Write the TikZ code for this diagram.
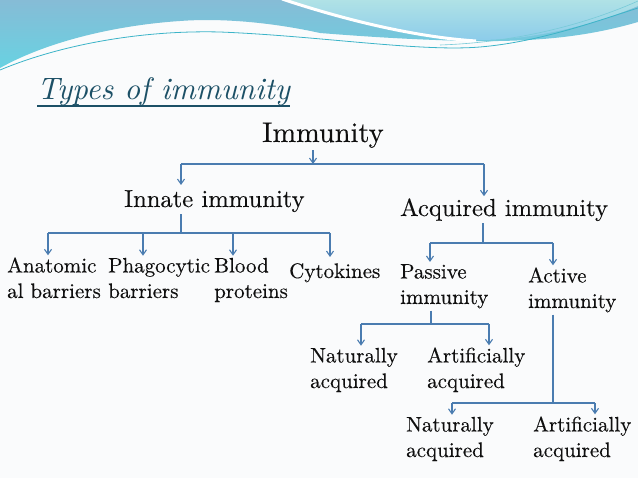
\documentclass[tikz,border=0pt]{standalone}
\usepackage{fontspec}
\newfontfamily\lmr{lmroman10-regular.otf}[FakeBold=0.3]
\newfontfamily\lmi{lmroman10-italic.otf}
\usetikzlibrary{arrows.meta}
\definecolor{conn}{RGB}{74,124,176}
\definecolor{txt}{RGB}{15,15,15}
\definecolor{titlec}{RGB}{28,80,102}
\definecolor{bgc}{RGB}{250,251,252}
\definecolor{wavetop}{RGB}{134,188,214}
\definecolor{wavebot}{RGB}{104,210,226}
\definecolor{paletop}{RGB}{176,226,230}
\definecolor{palebot}{RGB}{140,204,234}
\definecolor{tealline}{RGB}{60,180,200}
\begin{document}
\begin{tikzpicture}[x=1pt,y=-1pt,
  lbl/.style={anchor=base west, inner xsep=0pt, inner ysep=2pt, align=left, text=txt, font=\lmr\fontsize{21}{25.5}\selectfont},
  big/.style={lbl, font=\lmr\fontsize{24.6}{28}\selectfont},
  ln/.style={draw=conn, line width=1.1pt},
  arr/.style={ln, -{Straight Barb[length=5pt,width=7pt]}}]
\useasboundingbox (0,0) rectangle (638,478);
\fill[bgc] (0,0) rectangle (638,478);
% top decoration
\shade[top color=wavetop, bottom color=wavebot]
  (0,0) -- (638,0) -- (638,22) .. controls (590,36) and (540,42) .. (470,41)
  .. controls (420,40) and (370,37) .. (320,33)
  .. controls (270,22) and (220,18) .. (180,21)
  .. controls (120,25) and (50,40) .. (0,68) -- cycle;
\shade[top color=paletop, bottom color=palebot]
  (288,0) .. controls (350,20) and (420,38) .. (478,40)
  .. controls (540,40) and (600,22) .. (638,6) -- (638,0) -- cycle;
\draw[white, line width=3pt] (282,-1) .. controls (345,20) and (415,37) .. (476,41);
\draw[tealline, line width=0.8pt] (0,70) .. controls (60,45) and (140,30) .. (220,32)
  .. controls (320,36) and (420,52) .. (480,47) .. controls (540,42) and (600,20) .. (638,8);
\draw[tealline!70!white, line width=0.6pt] (440,45) .. controls (530,42) and (600,18) .. (638,1);
% title
\node[anchor=base west, inner sep=0pt, text=titlec, font=\lmi\fontsize{31}{34}\selectfont] (title) at (37,100) {Types of immunity};
\draw[titlec, line width=1.3pt] (title.base west) ++(0,6) coordinate (ul) -- (ul -| title.base east);
% nodes
\node[lbl, font=\lmr\fontsize{28.4}{32}\selectfont] (imm) at (262,142) {Immunity};
\node[big] (inn) at (124,207) {Innate immunity};
\node[big] (acq) at (400,216) {Acquired immunity};
\node[lbl] (ana) at (7,298) {Anatomic\\al barriers};
\node[lbl] (pha) at (108,298) {Phagocytic\\barriers};
\node[lbl] (blo) at (214,298) {Blood\\proteins};
\node[lbl] (cyt) at (289,278) {Cytokines};
\node[lbl] (pas) at (400,304) {Passive\\immunity};
\node[lbl] (act) at (528,308) {Active\\immunity};
\node[lbl] (pn) at (310,388) {Naturally\\acquired};
\node[lbl] (pa) at (427,388) {Artificially\\acquired};
\node[lbl] (an) at (406,457) {Naturally\\acquired};
\node[lbl] (aa) at (533,457) {Artificially\\acquired};
% bus coordinates
\coordinate (b1) at (313,164); \coordinate (b1l) at (181,164); \coordinate (b1r) at (484,164);
\coordinate (b2) at (181,233); \coordinate (b2a) at (48,233); \coordinate (b2b) at (143,233);
\coordinate (b2c) at (233,233); \coordinate (b2d) at (330,233);
\coordinate (b3) at (483,243); \coordinate (b3l) at (430,243); \coordinate (b3r) at (553,243);
\coordinate (b4) at (431,324); \coordinate (b4l) at (361,324); \coordinate (b4r) at (489,324);
\coordinate (b5) at (553,403); \coordinate (b5l) at (452,403); \coordinate (b5r) at (595,403);
% connectors
\draw[arr] (imm.south -| b1) -- (b1);
\draw[ln] (b1l) -- (b1r);
\draw[arr] (b1l) -- ([yshift=3pt]inn.north -| b1l);
\draw[arr] (b1r) -- (acq.north -| b1r);
\draw[ln] (inn.south -| b2) -- (b2);
\draw[ln] (b2a) -- (b2d);
\draw[arr] (b2a) -- (ana.north -| b2a);
\draw[arr] (b2b) -- (pha.north -| b2b);
\draw[arr] (b2c) -- (blo.north -| b2c);
\draw[arr] (b2d) -- ([yshift=4pt]cyt.north -| b2d);
\draw[ln] (acq.south -| b3) -- (b3);
\draw[ln] (b3l) -- (b3r);
\draw[arr] (b3l) -- (pas.north -| b3l);
\draw[arr] (b3r) -- (act.north -| b3r);
\draw[ln] (pas.south -| b4) -- (b4);
\draw[ln] (b4l) -- (b4r);
\draw[arr] (b4l) -- (pn.north -| b4l);
\draw[arr] (b4r) -- (pa.north -| b4r);
\draw[ln] (act.south -| b5) -- (b5);
\draw[ln] (b5l) -- (b5r);
\draw[arr] (b5l) -- (an.north -| b5l);
\draw[arr] (b5r) -- (aa.north -| b5r);
\end{tikzpicture}
\end{document}
